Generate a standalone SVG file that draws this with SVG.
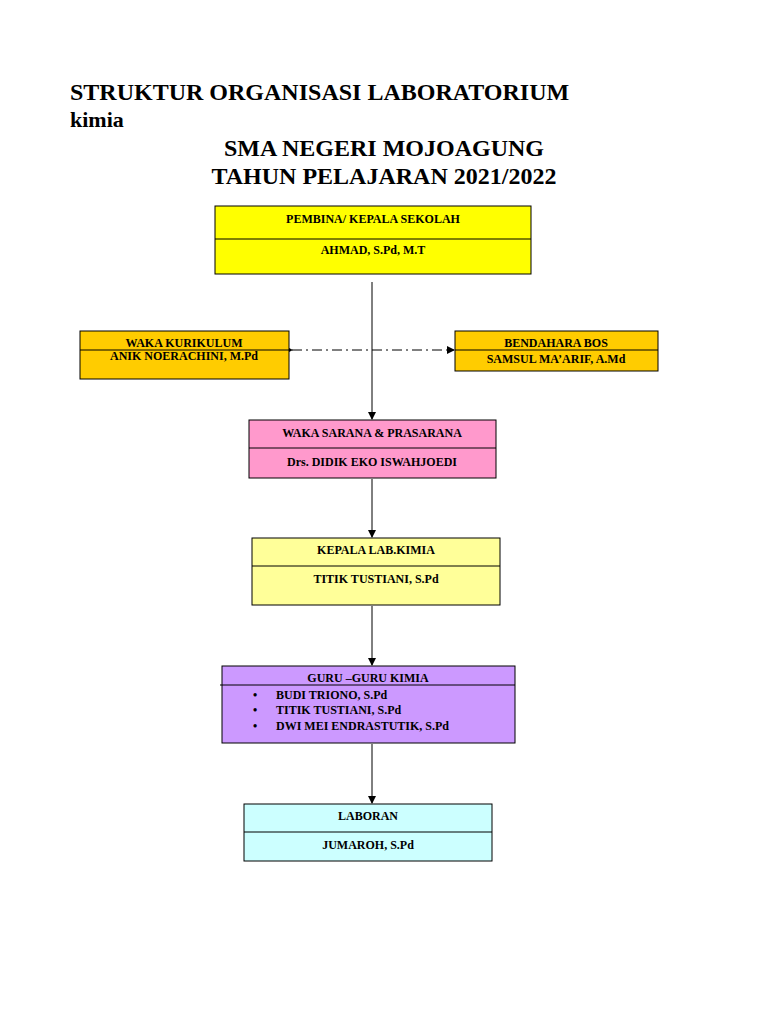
<svg xmlns="http://www.w3.org/2000/svg" width="768" height="1024" viewBox="0 0 768 1024">
<style>
text{font-family:"Liberation Serif",serif;font-weight:bold;fill:#000}
.t{font-size:24px}
.s{font-size:12px;text-anchor:middle}
.l{font-size:12px}
.b{stroke:#000;stroke-width:1}
.c{stroke:#000;stroke-width:1;fill:none}
</style>
<defs><marker id="a" markerWidth="8" markerHeight="8" refX="7" refY="4" orient="auto" markerUnits="userSpaceOnUse"><path d="M0,0L8,4L0,8z" fill="#000"/></marker></defs>
<rect width="768" height="1024" fill="#fff"/>
<text class="t" x="70" y="100">STRUKTUR ORGANISASI LABORATORIUM</text>
<text x="70" y="127" style="font-size:22px">kimia</text>
<text class="t" x="384" y="156" text-anchor="middle">SMA NEGERI MOJOAGUNG</text>
<text class="t" x="384" y="184" text-anchor="middle">TAHUN PELAJARAN 2021/2022</text>
<g id="connectors">
<line class="c" x1="372" y1="282" x2="372" y2="419" marker-end="url(#a)"/>
<line class="c" x1="292" y1="350" x2="454" y2="350" stroke-dasharray="10,4,2,4" marker-start="url(#a)" marker-end="url(#a)"/>
<line class="c" x1="372" y1="479" x2="372" y2="537" marker-end="url(#a)"/>
<line class="c" x1="372" y1="606" x2="372" y2="665" marker-end="url(#a)"/>
<line class="c" x1="372" y1="744" x2="372" y2="803" marker-end="url(#a)"/>
</g>
<g id="pembina"><rect class="b" x="215" y="206" width="316" height="68" fill="#ffff00"/><line class="b" x1="215" y1="239" x2="531" y2="239"/><text class="s" x="373" y="223">PEMBINA/ KEPALA SEKOLAH</text><text class="s" x="373" y="254">AHMAD, S.Pd, M.T</text></g>
<g id="waka-kur"><rect class="b" x="80" y="331" width="209" height="48" fill="#ffcc00"/><line class="b" x1="80" y1="350" x2="289" y2="350"/><text class="s" x="184" y="347">WAKA KURIKULUM</text><text class="s" x="184" y="360">ANIK NOERACHINI, M.Pd</text></g>
<g id="bendahara"><rect class="b" x="455" y="331" width="203" height="40" fill="#ffcc00"/><line class="b" x1="455" y1="350" x2="658" y2="350"/><text class="s" x="556" y="347">BENDAHARA BOS</text><text class="s" x="556" y="363">SAMSUL MA’ARIF, A.Md</text></g>
<g id="sarana"><rect class="b" x="249" y="420" width="247" height="58" fill="#ff99cc"/><line class="b" x1="249" y1="448" x2="496" y2="448"/><text class="s" x="372" y="437">WAKA SARANA &amp; PRASARANA</text><text class="s" x="372" y="466">Drs. DIDIK EKO ISWAHJOEDI</text></g>
<g id="kepala-lab"><rect class="b" x="252" y="538" width="248" height="67" fill="#ffff99"/><line class="b" x1="252" y1="566" x2="500" y2="566"/><text class="s" x="376" y="554">KEPALA LAB.KIMIA</text><text class="s" x="376" y="583">TITIK TUSTIANI, S.Pd</text></g>
<g id="guru"><rect class="b" x="222" y="666" width="293" height="77" fill="#cc99ff"/><line class="b" x1="220" y1="685" x2="515" y2="685"/><text class="s" x="368" y="682">GURU –GURU KIMIA</text>
<text class="l" x="253" y="699">•</text><text class="l" x="276" y="699">BUDI TRIONO, S.Pd</text>
<text class="l" x="253" y="714">•</text><text class="l" x="276" y="714">TITIK TUSTIANI, S.Pd</text>
<text class="l" x="253" y="730">•</text><text class="l" x="276" y="730">DWI MEI ENDRASTUTIK, S.Pd</text></g>
<g id="laboran"><rect class="b" x="244" y="804" width="248" height="57" fill="#ccffff"/><line class="b" x1="244" y1="832" x2="492" y2="832"/><text class="s" x="368" y="820">LABORAN</text><text class="s" x="368" y="849">JUMAROH, S.Pd</text></g>
</svg>
